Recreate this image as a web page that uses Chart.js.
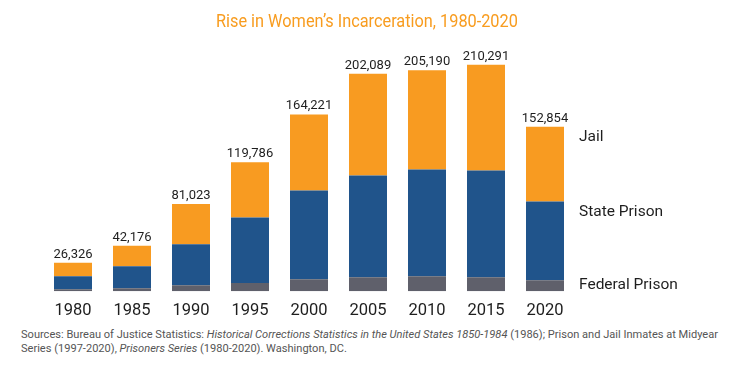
<!DOCTYPE html>
<html>
<head>
<meta charset="utf-8">
<script src="https://cdn.jsdelivr.net/npm/chart.js@4/dist/chart.umd.min.js"></script>
<style>
  html, body { margin: 0; padding: 0; background: #fff; }
  #wrap { position: relative; width: 733px; height: 367px; overflow: hidden; font-family: Roboto, sans-serif; }
  #chart { position: absolute; left: 0; top: 0; }
  #title { position: absolute; left: 0; width: 733px; top: 9px; text-align: center; }
  #title span { display: inline-block; color: #F89C1F; font-size: 19px; transform-origin: center; white-space: nowrap; }
  #note { position: absolute; left: 21px; top: 328px; color: #555; font-size: 11px; line-height: 13.5px; white-space: nowrap; transform-origin: left top; }
</style>
</head>
<body>
<div id="wrap">
  <canvas id="chart" width="733" height="325"></canvas>
  <div id="title"><span id="titleText">Rise in Women’s Incarceration, 1980-2020</span></div>
  <div id="note">Sources: Bureau of Justice Statistics: <i>Historical Corrections Statistics in the United States 1850-1984</i> (1986); Prison and Jail Inmates at Midyear<br>Series (1997-2020), <i>Prisoners Series</i> (1980-2020). Washington, DC.</div>
</div>
<script>
const years = ["1980", "1985", "1990", "1995", "2000", "2005", "2010", "2015", "2020"];
const totals = [26326, 42176, 81023, 119786, 164221, 202089, 205190, 210291, 152854];
const federalPrison = [1850, 2800, 5600, 7700, 11100, 13000, 13900, 13000, 10200];
const statePrison = [12000, 20400, 38000, 60800, 82400, 94400, 99100, 99100, 73100];
const jail = totals.map((t, i) => t - federalPrison[i] - statePrison[i]);
const seriesNames = ["Federal Prison", "State Prison", "Jail"];

// squeeze the title and note to look like the condensed face in the original
const titleEl = document.getElementById("titleText");
titleEl.style.transform = `scaleX(${302 / titleEl.offsetWidth})`;
const noteEl = document.getElementById("note");
noteEl.style.transform = `scaleX(${697 / noteEl.offsetWidth})`;

const totalLabels = {
    id: "totalLabels",
    afterDatasetsDraw(chart) {
        const { ctx } = chart;
        const top = chart.getDatasetMeta(2).data;
        ctx.save();
        ctx.font = "13px Roboto";
        ctx.fillStyle = "#1e1e1e";
        ctx.textAlign = "center";
        ctx.textBaseline = "alphabetic";
        top.forEach((bar, i) => {
            ctx.fillText(totals[i].toLocaleString("en-US"), bar.x, bar.y - 5);
        });

        // series names beside the last bar
        const last = years.length - 1;
        const fed = chart.getDatasetMeta(0).data[last];
        const state = chart.getDatasetMeta(1).data[last];
        const jl = chart.getDatasetMeta(2).data[last];
        const x = fed.x + fed.width / 2 + 15;
        ctx.font = "15.5px Roboto";
        ctx.textAlign = "left";
        ctx.textBaseline = "middle";
        ctx.fillText(seriesNames[2], x, jl.y + 10);
        ctx.fillText(seriesNames[1], x, state.y + 11);
        ctx.fillText(seriesNames[0], x, fed.base - 6);
        ctx.restore();
    },
};

new Chart(document.getElementById("chart"), {
    type: "bar",
    data: {
        labels: years,
        datasets: [
            { label: seriesNames[0], data: federalPrison, backgroundColor: "#5F606B" },
            { label: seriesNames[1], data: statePrison, backgroundColor: "#20548B" },
            { label: seriesNames[2], data: jail, backgroundColor: "#F89B21" },
        ],
    },
    options: {
        responsive: false,
        animation: false,
        layout: { padding: { left: 43.5, right: 158.5, top: 49, bottom: 2 } },
        datasets: { bar: { categoryPercentage: 1, barPercentage: 0.644 } },
        plugins: { legend: { display: false }, tooltip: { enabled: false }, title: { display: false } },
        scales: {
            x: {
                stacked: true,
                grid: { display: false },
                border: { display: false },
                ticks: { color: "#1e1e1e", font: { family: "Roboto", size: 16.5 }, padding: 2 },
            },
            y: { stacked: true, display: false, min: 0, max: 225000 },
        },
    },
    plugins: [totalLabels],
});
</script>
</body>
</html>
